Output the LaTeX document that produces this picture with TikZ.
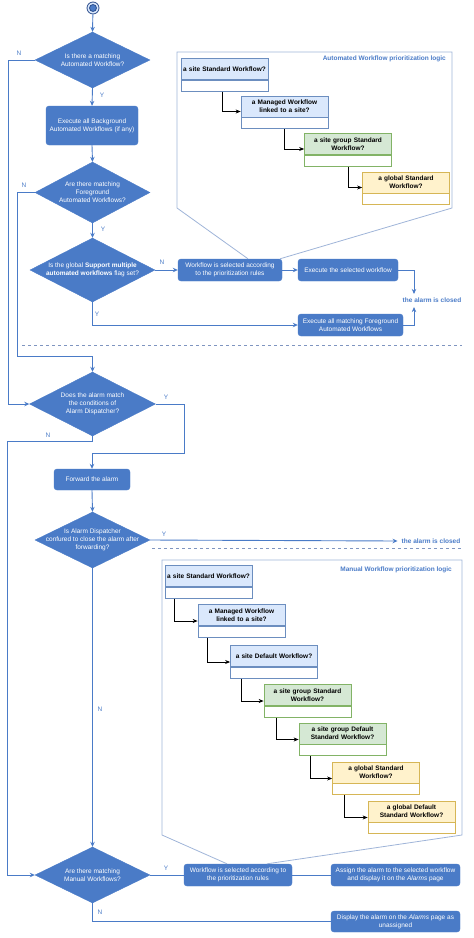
\documentclass[tikz,border=0pt]{standalone}
\usepackage{fontspec}
\setmainfont{Liberation Sans}
\usepackage{tikz}
\usetikzlibrary{positioning,arrows.meta,shapes.geometric}
\definecolor{flowblue}{HTML}{4A7BC7}
\definecolor{flowdark}{HTML}{2E4F8E}
\definecolor{panelline}{HTML}{9FB4D8}
\definecolor{sepline}{HTML}{7F95C0}
\definecolor{bluefill}{HTML}{DAE8FC}
\definecolor{bluedraw}{HTML}{6C8EBF}
\definecolor{greenfill}{HTML}{D5E8D4}
\definecolor{greendraw}{HTML}{82B366}
\definecolor{yellowfill}{HTML}{FFF2CC}
\definecolor{yellowdraw}{HTML}{D6B656}
\newcommand{\smallfont}{\fontsize{6.5}{8}\selectfont}
\tikzset{
  startc/.style={circle, minimum size=12pt, inner sep=0pt, draw=flowdark, line width=0.8pt, fill=bluefill,
                 path picture={\fill[flowblue, draw=flowdark] (path picture bounding box.center) circle (3.5pt);}},
  decision/.style={diamond, draw=flowblue, fill=flowblue, inner sep=0pt},
  dtext/.style={text=white, font=\smallfont, align=center, inner sep=0pt},
  process/.style={rectangle, rounded corners=3pt, draw=flowblue, fill=flowblue, text=white, font=\smallfont, align=center, inner sep=1pt},
  flow/.style={draw=flowblue, line width=0.9pt, -{Stealth[length=5pt,width=4.5pt]}},
  flowline/.style={draw=flowblue, line width=0.9pt},
  yn/.style={text=flowblue, font=\smallfont, inner sep=0pt},
  closedtext/.style={text=flowblue, font=\smallfont\bfseries, inner sep=4pt},
  ptitle/.style={text=flowblue, font=\smallfont\bfseries, inner sep=0pt},
  panel/.style={draw=panelline, line width=0.8pt},
  divider/.style={draw=sepline, dash pattern=on 3pt off 3pt, line width=0.9pt},
  hdr/.style={rectangle, minimum width=87pt, minimum height=21pt, text width=85pt, inner sep=1pt, align=center, font=\smallfont\bfseries, line width=0.7pt},
  bdy/.style={rectangle, minimum width=87pt, minimum height=11pt, inner sep=0pt, fill=white, line width=0.7pt},
  pblue/.style={draw=bluedraw, fill=bluefill},
  pgreen/.style={draw=greendraw, fill=greenfill},
  pyellow/.style={draw=yellowdraw, fill=yellowfill},
  nextarrow/.style={draw=black, line width=1pt, -{Stealth[length=5pt,width=4pt]}},
}

\begin{document}
\begin{tikzpicture}[x=1pt, y=-1pt]
  \useasboundingbox (0,0) rectangle (474,938);

  % automated part
  \node[startc] (start) at (93,8) {};
  \node[decision, minimum width=115pt, minimum height=56pt] (q1) at (92.5,60) {};
  \node[dtext] (q1t) at (q1) {Is there a matching\\Automated Workflow?};
  \node[process, minimum width=92pt, minimum height=39pt] (bg) at (92,125.5) {Execute all Background\\Automated Workflows (if any)};
  \node[decision, minimum width=115pt, minimum height=61pt] (q2) at (92.5,192.5) {};
  \node[dtext] (q2t) at (q2) {Are there matching\\Foreground\\Automated Workflows?};
  \node[decision, minimum width=125pt, minimum height=64pt] (q3) at (92.5,270) {};
  \node[dtext] (q3t) at (q3) {Is the global \textbf{Support multiple}\\\textbf{automated workflows} flag set?};
  \node[process, minimum width=104pt, minimum height=22pt] (sel1) at (230,270) {Workflow is selected according\\to the prioritization rules};
  \node[process, minimum width=100pt, minimum height=22pt] (exec1) at (348,270) {Execute the selected workflow};
  \node[process, minimum width=105pt, minimum height=22pt] (exec2) at (350.5,325) {Execute all matching Foreground\\Automated Workflows};
  \node[closedtext] (closed1) at (432,300.5) {the alarm is closed};

  % prioritization boxes (automated)
  \node[hdr, pblue] (a1) at (224.5,69) {a site Standard Workflow?};
  \node[bdy, draw=bluedraw, below=0pt of a1] (a1b) {};
  \node[hdr, pblue] (a2) at (284.5,106.5) {a Managed Workflow\\linked to a site?};
  \node[bdy, draw=bluedraw, below=0pt of a2] (a2b) {};
  \node[hdr, pgreen] (a3) at (348,144) {a site group Standard\\Workflow?};
  \node[bdy, draw=greendraw, below=0pt of a3] (a3b) {};
  \node[hdr, pyellow] (a4) at (406,182.5) {a global Standard\\Workflow?};
  \node[bdy, draw=yellowdraw, below=0pt of a4] (a4b) {};
  \node[ptitle, anchor=east] (t1) at (446,59) {Automated Workflow prioritization logic};

  \draw[nextarrow] ([xshift=42pt]a1b.south west) |- ([yshift=-5pt]a2.west);
  \draw[nextarrow] ([xshift=44pt]a2b.south west) |- ([yshift=-5pt]a3.west);
  \draw[nextarrow] ([xshift=44pt]a3b.south west) |- ([yshift=-5pt]a4.west);
  \draw[panel] ([xshift=18pt]sel1.north) -- (177,208) -- (177,52) -- (452,52) -- (452,208) -- ([xshift=50pt]sel1.north);

  \draw[divider] (22,345) -- (462,345);

  % dispatcher part
  \node[decision, minimum width=126pt, minimum height=64pt] (q4) at (92.5,404) {};
  \node[dtext] (q4t) at (q4) {Does the alarm match\\the conditions of\\Alarm Dispatcher?};
  \node[process, minimum width=76pt, minimum height=21pt] (fwd) at (92,479.5) {Forward the alarm};
  \node[decision, minimum width=115pt, minimum height=56pt] (q5) at (92.5,540) {};
  \node[dtext] (q5t) at (q5) {Is Alarm Dispatcher\\confured to close the alarm after\\forwarding?};
  \node[closedtext] (closed2) at (431,541) {the alarm is closed};

  \draw[divider] (152,548) -- (462,548);

  % manual part
  \node[decision, minimum width=115pt, minimum height=56pt] (q6) at (92.5,875) {};
  \node[dtext] (q6t) at (q6) {Are there matching\\Manual Workflows?};
  \node[process, minimum width=108pt, minimum height=22pt] (sel2) at (238,875) {Workflow is selected according to\\the prioritization rules};
  \node[process, minimum width=129pt, minimum height=22pt] (assign) at (395.5,875) {Assign the alarm to the selected workflow\\and display it on the \textit{Alarms} page};
  \node[process, minimum width=129pt, minimum height=21pt] (unas) at (395.5,921.5) {Display the alarm on the \textit{Alarms} page as\\unassigned};

  % prioritization boxes (manual)
  \node[hdr, pblue] (m1) at (208.5,576) {a site Standard Workflow?};
  \node[bdy, draw=bluedraw, below=0pt of m1] (m1b) {};
  \node[hdr, pblue] (m2) at (241.5,615) {a Managed Workflow\\linked to a site?};
  \node[bdy, draw=bluedraw, below=0pt of m2] (m2b) {};
  \node[hdr, pblue] (m3) at (274,656) {a site Default Workflow?};
  \node[bdy, draw=bluedraw, below=0pt of m3] (m3b) {};
  \node[hdr, pgreen] (m4) at (307.5,695) {a site group Standard\\Workflow?};
  \node[bdy, draw=greendraw, below=0pt of m4] (m4b) {};
  \node[hdr, pgreen] (m5) at (342.5,733.5) {a site group Default\\Standard Workflow?};
  \node[bdy, draw=greendraw, below=0pt of m5] (m5b) {};
  \node[hdr, pyellow] (m6) at (376,772.5) {a global Standard\\Workflow?};
  \node[bdy, draw=yellowdraw, below=0pt of m6] (m6b) {};
  \node[hdr, pyellow] (m7) at (411.5,811.5) {a global Default\\Standard Workflow?};
  \node[bdy, draw=yellowdraw, below=0pt of m7] (m7b) {};
  \node[ptitle, anchor=east] (t2) at (452,570) {Manual Workflow prioritization logic};

  \draw[nextarrow] ([xshift=10pt]m1b.south west) |- ([yshift=-6pt]m2.west);
  \draw[nextarrow] ([xshift=10pt]m2b.south west) |- ([yshift=-6pt]m3.west);
  \draw[nextarrow] ([xshift=11pt]m3b.south west) |- ([yshift=-6pt]m4.west);
  \draw[nextarrow] ([xshift=13pt]m4b.south west) |- ([yshift=-6pt]m5.west);
  \draw[nextarrow] ([xshift=12pt]m5b.south west) |- ([yshift=-6pt]m6.west);
  \draw[nextarrow] ([xshift=12pt]m6b.south west) |- ([yshift=-6pt]m7.west);
  \draw[panel] ([xshift=-11pt]sel2.north) -- (162,835) -- (162,560) -- (462,560) -- (462,835) -- ([xshift=29pt]sel2.north);

  % bends
  \coordinate (b1) at (8,404);
  \coordinate (b2) at (17,356);
  \coordinate (b4y) at (184,453);
  \coordinate (b4n) at (7,875);

  % connectors
  \draw[flow] (start) -- (q1.north);
  \draw[flow] (q1.south) -- (bg.north);
  \draw[flow] (bg.south) -- (q2.north);
  \draw[flow] (q2.south) -- (q3.north);
  \draw[flow] (q3.east) -- (sel1.west);
  \draw[flow] (sel1.east) -- (exec1.west);
  \draw[flow] (exec1.east) -| ([xshift=-18pt]closed1.north);
  \draw[flow] (q3.south) |- (exec2.west);
  \draw[flow] (exec2.east) -| ([xshift=-18pt]closed1.south);
  \draw[flow] (q1.west) -| (b1) -- (q4.west);
  \draw[flow] (q2.west) -| (b2) -| (q4.north);
  \draw[flow] (q4.east) -| (b4y) -| (fwd.north);
  \draw[flow] (fwd.south) -- (q5.north);
  \draw[flow] (q5.east) -- (closed2.west);
  \draw[flow] (q4.south) -- ++(0,5) -| (b4n) -- (q6.west);
  \draw[flow] (q5.south) -- (q6.north);
  \draw[flowline] (q6.east) -- (sel2.west);
  \draw[flowline] (sel2.east) -- (assign.west);
  \draw[flowline] (q6.south) |- (unas.west);

  % labels
  \node[yn] (n1) at (19,53) {N};
  \node[yn] (y1) at (102,95) {Y};
  \node[yn] (n2) at (24,185) {N};
  \node[yn] (y2) at (103,229) {Y};
  \node[yn] (n3) at (162,262) {N};
  \node[yn] (y3) at (97,314) {Y};
  \node[yn] (y4) at (166,397) {Y};
  \node[yn] (n4) at (48,435) {N};
  \node[yn] (y5) at (164,534) {Y};
  \node[yn] (n5) at (100,709) {N};
  \node[yn] (y6) at (166,868) {Y};
  \node[yn] (n6) at (100,912) {N};
\end{tikzpicture}
\end{document}
